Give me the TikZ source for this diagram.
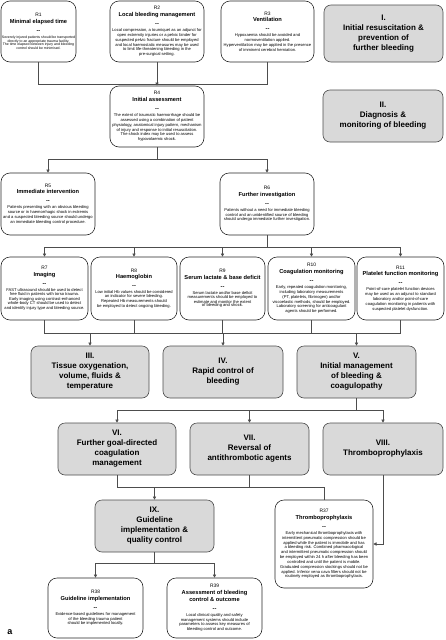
\documentclass[tikz,border=0pt]{standalone}
\usepackage{fontspec}
\setmainfont{Liberation Sans}
\usepackage{tikz}
\usetikzlibrary{arrows.meta}

\definecolor{secgray}{HTML}{D9D9D9}
\definecolor{linegray}{HTML}{4D4D4D}

\newcommand{\rnum}{\fontsize{4.9}{5.8}\selectfont\mdseries}
\newcommand{\rtitle}{\fontsize{5.7}{6.6}\selectfont\bfseries}
\newcommand{\rtext}{\fontsize{4.1}{3.7}\selectfont\mdseries}
\newcommand{\rcell}[3]{\spaceskip=0pt\xspaceskip=0pt
  \rnum #1\par\rtitle #2\par\vspace{2.4pt}-{}-\par\vspace{2.4pt}\rtext #3\par}

\begin{document}
\begin{tikzpicture}[x=1pt,y=-1pt,
   recbox/.style={draw=black!85,line width=0.6pt,rounded corners=9pt,fill=white,
     align=flush center,font=\rtext,
     minimum width=#1,text width=#1,minimum height=61pt,inner xsep=0pt,inner ysep=2pt},
   secbox/.style={draw=black!70,line width=0.6pt,rounded corners=7pt,fill=secgray,
     minimum width=#1,minimum height=52pt,align=center,inner sep=1pt,
     font=\fontsize{8}{10}\selectfont\bfseries},
   conn/.style={draw=linegray,line width=0.6pt},
   arr/.style={conn,-{Triangle[width=3.2pt,length=3.2pt]}}]
\useasboundingbox (0,0) rectangle (445,640);

\node[recbox=75pt] (r1) at (38.5,31.5) {\rcell{R1}{Minimal elapsed time}{\fontsize{3.5}{3.6}\selectfont
  Severely injured patients should be transported\\ directly to an appropriate trauma facility.\\
  The time elapsed between injury and bleeding\\ control should be minimised.}};
\node[recbox=94pt] (r2) at (157,31.5) {\rcell{R2}{Local bleeding management}{
  Local compression, a tourniquet as an adjunct for\\ open extremity injuries or a pelvic binder for\\
  suspected pelvic fracture should be employed\\ and local haemostatic measures may be used\\
  to limit life-threatening bleeding in the\\ pre-surgical setting.}};
\node[recbox=93pt] (r3) at (267.5,31.5) {\rcell{R3}{Ventilation}{
  Hypoxaemia should be avoided and\\ normoventilation applied.\\
  Hyperventilation may be applied in the presence\\ of imminent cerebral herniation.}};
\node[secbox=119pt,minimum height=57pt] (s1) at (383.5,33.5) {I.\\ Initial resuscitation \&\\ prevention of\\ further bleeding};

\node[recbox=94pt] (r4) at (157,116.5) {\rcell{R4}{Initial assessment}{
  The extent of traumatic haemorrhage should be\\ assessed using a combination of patient\\
  physiology, anatomical injury pattern, mechanism\\ of injury and response to initial resuscitation.\\
  The shock index may be used to assess\\ hypovolaemic shock.}};
\node[secbox=120pt] (s2) at (383,116) {II.\\ Diagnosis \&\\ monitoring of bleeding};

\node[recbox=94pt,minimum height=62pt] (r5) at (48,204) {\rcell{R5}{Immediate intervention}{
  Patients presenting with an obvious bleeding\\ source or in haemorrhagic shock in extremis\\
  and a suspected bleeding source should undergo\\ an immediate bleeding control procedure.}};
\node[recbox=94pt,minimum height=62pt] (r6) at (267,204) {\rcell{R6}{Further investigation}{
  Patients without a need for immediate bleeding\\ control and an unidentified source of bleeding\\
  should undergo immediate further investigation.}};

\node[recbox=87pt,minimum height=63pt] (r7) at (44.5,288.5) {\rcell{R7}{Imaging}{
  FAST ultrasound should be used to detect\\ free fluid in patients with torso trauma.\\
  Early imaging using contrast-enhanced\\ whole-body CT should be used to detect\\
  and identify injury type and bleeding source.}};
\node[recbox=86pt,minimum height=63pt] (r8) at (134,288.5) {\rcell{R8}{Haemoglobin}{
  Low initial Hb values should be considered\\ an indicator for severe bleeding.\\
  Repeated Hb measurements should\\ be employed to detect ongoing bleeding.}};
\node[recbox=85pt,minimum height=63pt] (r9) at (222.5,288.5) {\rcell{R9}{Serum lactate \& base deficit}{
  Serum lactate and/or base deficit\\ measurements should be employed to\\
  estimate and monitor the extent\\ of bleeding and shock.}};
\node[recbox=87pt,minimum height=63pt] (r10) at (311.5,288.5) {\rcell{R10}{Coagulation monitoring}{
  Early, repeated coagulation monitoring,\\ including laboratory measurements\\
  (PT, platelets, fibrinogen) and/or\\ viscoelastic methods, should be employed.\\
  Laboratory screening for anticoagulant\\ agents should be performed.}};
\node[recbox=87pt,minimum height=63pt] (r11) at (400.5,288.5) {\rcell{R11}{Platelet function monitoring}{
  Point-of-care platelet function devices\\ may be used as an adjunct to standard\\
  laboratory and/or point-of-care\\ coagulation monitoring in patients with\\
  suspected platelet dysfunction.}};

\node[secbox=118pt] (s3) at (90,372) {III.\\ Tissue oxygenation,\\ volume, fluids \&\\ temperature};
\node[secbox=120pt] (s4) at (223,372) {IV.\\ Rapid control of\\ bleeding};
\node[secbox=119pt] (s5) at (356.5,372) {V.\\ Initial management\\ of bleeding \&\\ coagulopathy};

\node[secbox=118pt] (s6) at (117,449) {VI.\\ Further goal-directed\\ coagulation\\ management};
\node[secbox=119pt] (s7) at (249.5,449) {VII.\\ Reversal of\\ antithrombotic agents};
\node[secbox=120pt] (s8) at (383,449) {VIII.\\ Thromboprophylaxis};

\node[secbox=119pt] (s9) at (154.5,526) {IX.\\ Guideline\\ implementation \&\\ quality control};
\node[recbox=98pt,minimum height=88pt] (r37) at (324,544) {\rcell{R37}{Thromboprophylaxis}{
  Early mechanical thromboprophylaxis with\\ intermittent pneumatic compression should be\\
  applied while the patient is immobile and has\\ a bleeding risk. Combined pharmacological\\
  and intermittent pneumatic compression should\\ be employed within 24 h after bleeding has been\\
  controlled and until the patient is mobile.\\ Graduated compression stockings should not be\\
  applied. Inferior vena cava filters should not be\\ routinely employed as thromboprophylaxis.}};

\node[recbox=95pt,minimum height=60pt] (r38) at (95.5,608) {\rcell{R38}{Guideline implementation}{
  Evidence-based guidelines for management\\ of the bleeding trauma patient\\
  should be implemented locally.}};
\node[recbox=95pt,minimum height=60pt] (r39) at (214.5,608) {\rcell{R39}{Assessment of bleeding\\ control \& outcome}{
  Local clinical quality and safety\\ management systems should include\\
  parameters to assess key measures of\\ bleeding control and outcome.}};

\node[font=\fontsize{9}{9}\selectfont\bfseries] (lbl) at (10,632) {a};

\draw[conn] (r1.south) -- ++(0,22) -| (r3.south);
\draw[arr] (r2.south) -- (r4.north);
\draw[arr] (r4.south) -- ++(0,12) coordinate (j4) -| (r5.north);
\draw[arr] (j4) -| (r6.north);
\draw[conn] (r6.south) -- ++(0,12) coordinate (j6);
\foreach \n in {r7,r8,r9,r10,r11}
  \draw[arr] (j6) -| (\n.north);
\draw[conn] (r7.south) -- ++(0,13) coordinate (j7) -- (j7 -| r11.south) -- (r11.south);
\foreach \n in {r8,r9,r10}
  \draw[conn] (\n.south) -- (\n.south |- j7);
\foreach \n in {s3,s4,s5}
  \draw[arr] (j7 -| \n.north) -- (\n.north);
\draw[conn] (s5.south) -- ++(0,12) coordinate (j5);
\foreach \n in {s6,s7,s8}
  \draw[arr] (j5) -| (\n.north);
\draw[conn] (s6.south) -- ++(0,12) coordinate (j8) -| (r37.north);
\draw[conn] (s7.south) -- (s7.south |- j8);
\draw[arr] (j8 -| s9.north) -- (s9.north);
\draw[arr] (s8.south) |- (r37.east);
\draw[conn] (s9.south) -- ++(0,11) coordinate (j9);
\draw[arr] (j9) -| (r38.north);
\draw[arr] (j9) -| (r39.north);
\end{tikzpicture}
\end{document}
